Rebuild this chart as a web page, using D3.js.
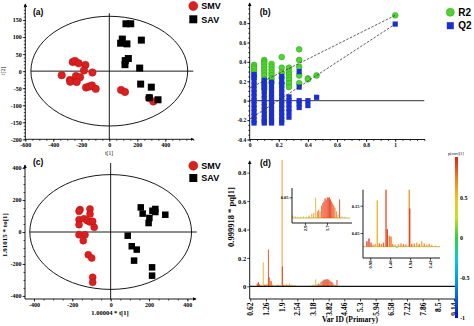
<!DOCTYPE html>
<html>
<head>
<meta charset="utf-8">
<script src="https://cdn.jsdelivr.net/npm/d3@7"></script>
<style>
  body { margin: 0; background: #fff; }
  svg { display: block; }
</style>
</head>
<body>
<svg width="474" height="326"></svg>
<script>
// ---- (a) PCA scores
const smvAx = [-340, -261, -245, -219, -171, -181, -121, -238, -209, -281, -279, -233, -166, -143, -124, -97, 84, 112, 284, 314];
const smvAy = [-12, 27, 30, 23, 18, 2, -4, -14, -18, -26, -31, -32, -48, -45, -42, -52, -55, -61, -79, -89];
const savAx = [119, 153, 93, 81, 126, 229, 136, 114, 112, 217, 224, 300, 286, 348];
const savAy = [139, 139, 94, 82, 80, 91, 37, 31, 19, 9, -38, -47, -78, -84];

// ---- (c) OPLS-DA scores
const smvCx = [-160, -165, -108, -108, -165, -139, -122, -108, -94, -165, -86, -165, -134, -143, -117, -99, -94, -94];
const smvCy = [140, 130, 144, 112, 77, 83, 71, 63, 67, 46, 29, -17, -17, -54, -142, -163, -283, -315];
const savCx = [157, 167, 202, 198, 218, 233, 233, 285, 89, 110, 136, 122, 216, 216];
const savCy = [154, 115, 88, 56, 133, 144, 125, 108, -23, -89, -110, -179, -221, -273];

// ---- (b) permutation test
const permX = [0.03, 0.1, 0.15, 0.22, 0.27, 0.34, 0.40, 0.46, 1];
const r2Vals = [
  [0.37, 0.35, 0.33, 0.30, 0.27, 0.24],
  [0.42, 0.40, 0.38, 0.35, 0.32, 0.29, 0.26, 0.22, 0.18, 0.15, 0.12],
  [0.38, 0.35, 0.32, 0.29, 0.26, 0.23, 0.19],
  [0.45, 0.34, 0.29, 0.24, 0.18],
  [0.34, 0.30, 0.27, 0.24, 0.21, 0.18, 0.14],
  [0.53, 0.42, 0.35, 0.26, 0.18],
  [0.23, 0.22],
  [0.26],
  [0.88]
];
const q2Vals = [
  [0.27, 0.24, 0.20, 0.16, 0.12, 0.08, 0.04, 0.0, -0.04, -0.08, -0.12, -0.16, -0.20, -0.23],
  [0.21, 0.18, 0.14, 0.10, 0.06, 0.02, -0.02, -0.06, -0.10, -0.14, -0.18, -0.21, -0.23],
  [0.19, 0.15, 0.11, 0.07, 0.03, -0.01, -0.05, -0.09, -0.13, -0.17, -0.21, -0.23],
  [0.25, 0.20, 0.16, 0.12, 0.08, 0.04, 0.0, -0.04, -0.08, -0.12, -0.16, -0.20, -0.23],
  [0.04, 0.0, -0.04, -0.08, -0.12, -0.17],
  [0.30, 0.14, 0.0, -0.03, -0.07],
  [0.0, -0.05],
  [0.035],
  [0.79]
];
const r2Fit = [0.13, 0.88];   // intercept at 0, value at 1
const q2Fit = [-0.19, 0.79];

// ---- (d) S-line loadings
const dTickLabels = ['0.62', '1.26', '1.9', '2.54', '3.18', '3.82', '4.46', '5.3', '5.94', '6.58', '7.22', '7.86', '8.5', '9.14'];
const specPpm = [0.90, 0.95, 1.00, 1.05, 1.10, 1.15, 1.20, 1.25, 1.30, 1.36, 1.39, 1.44, 1.48, 1.52, 1.58, 1.62, 1.66, 1.72, 1.78, 1.84,
  1.92, 1.93, 1.98, 2.04, 2.10, 2.16, 2.22, 2.28, 2.34, 2.40, 2.46, 2.55, 2.65, 2.75, 2.85, 2.95, 3.05, 3.15, 3.22, 3.29,
  3.35, 3.40, 3.45, 3.50, 3.55, 3.59, 3.63, 3.67, 3.71, 3.75, 3.79, 3.83, 3.87, 3.91, 3.95, 3.99, 4.04, 4.10, 4.16, 4.25, 4.35];
const specVal = [0.02, 0.03, 0.015, 0.008, 0.01, 0.17, 0.012, 0.01, 0.015, 0.26, 0.064, 0.04, 0.037, 0.01, 0.008, -0.004, 0.01, 0.012, 0.01, 0.008,
  0.95, 0.14, 0.01, 0.012, 0.015, 0.01, 0.02, 0.012, 0.008, 0.01, 0.006, 0.004, 0.003, 0.003, 0.004, 0.003, 0.006, 0.01, 0.012, 0.049,
  0.016, 0.02, 0.016, 0.03, 0.036, 0.04, 0.048, 0.044, 0.05, 0.049, 0.05, 0.045, 0.04, 0.035, 0.03, 0.025, 0.016, 0.008, 0.045, 0.004, 0.003];
const specCorr = [0.95, 0.95, 0.9, 0.7, 0.6, 0.55, 0.8, 0.7, 0.85, 0.88, 0.95, 0.75, 0.8, 0.7, 0.6, 0.05, 0.6, 0.7, 0.8, 0.7,
  0.66, 0.92, 0.8, 0.7, 0.6, 0.75, 0.55, 0.7, 0.6, 0.65, 0.6, 0.6, 0.55, 0.6, 0.55, 0.6, 0.7, 0.6, 0.65, 0.55,
  0.75, 0.8, 0.7, 0.8, 0.9, 0.92, 0.95, 0.9, 0.95, 0.92, 0.95, 0.9, 0.88, 0.85, 0.9, 0.8, 0.75, 0.6, 0.92, 0.6, 0.55];
const corrStops = [-1, -0.75, -0.5, -0.25, 0, 0.25, 0.5, 0.75, 1];
const corrColors = ['#0010d0', '#0060f0', '#00a0f0', '#00d0c8', '#30d040', '#c8e020', '#f0c020', '#f07a20', '#e02010'];

const svg = d3.select('svg');
const defs = svg.append('defs');
defs.append('marker').attr('id', 'arrow').attr('viewBox', '0 0 6 6')
  .attr('refX', 5).attr('refY', 3).attr('markerWidth', 4).attr('markerHeight', 4).attr('orient', 'auto')
  .append('path').attr('d', 'M0,0L6,3L0,6Z').attr('fill', '#000');

const serif = '"Liberation Serif", "DejaVu Serif", serif';
const sans = '"Liberation Sans", Arial, sans-serif';
const num = d => String(d);

function bottomAxis(x, yPos, major, minor, fmt, fs) {
  const g = svg.append('g').attr('transform', 'translate(0,' + yPos + ')');
  if (minor) {
    g.append('g').call(d3.axisBottom(x).tickValues(minor).tickSize(1.5).tickFormat(''))
      .call(s => s.select('.domain').remove());
  }
  const m = g.append('g').call(d3.axisBottom(x).tickValues(major).tickSize(2.5).tickPadding(1).tickFormat(fmt));
  m.select('.domain').remove();
  g.selectAll('line').attr('stroke-width', 0.7);
  m.selectAll('text').style('font-family', serif).style('font-weight', 'bold').style('font-size', fs + 'px');
  return m;
}

function leftAxis(y, xPos, major, minor, fmt, fs) {
  const g = svg.append('g').attr('transform', 'translate(' + xPos + ',0)');
  if (minor) {
    g.append('g').call(d3.axisLeft(y).tickValues(minor).tickSize(1.5).tickFormat(''))
      .call(s => s.select('.domain').remove());
  }
  const m = g.append('g').call(d3.axisLeft(y).tickValues(major).tickSize(2.5).tickPadding(1).tickFormat(fmt));
  m.select('.domain').remove();
  g.selectAll('line').attr('stroke-width', 0.7);
  m.selectAll('text').style('font-family', serif).style('font-weight', 'bold').style('font-size', fs + 'px');
  return m;
}

function axisLine(x1, y1, x2, y2, arrow) {
  svg.append('line').attr('x1', x1).attr('y1', y1).attr('x2', x2).attr('y2', y2)
    .attr('stroke', '#000').attr('stroke-width', 0.9)
    .attr('marker-end', arrow ? 'url(#arrow)' : null);
}

function txt(x, y, s, fs, opts) {
  opts = opts || {};
  const t = svg.append('text').attr('x', x).attr('y', y).text(s)
    .style('font-family', opts.family || serif).style('font-size', fs + 'px')
    .style('font-weight', opts.bold === false ? 'normal' : 'bold')
    .attr('text-anchor', opts.anchor || 'start').attr('fill', opts.fill || '#000');
  if (opts.rotate) t.attr('transform', 'rotate(' + opts.rotate + ',' + x + ',' + y + ')');
  return t;
}

function legend(x, y, label, shape, fill, stroke, size, fs) {
  if (shape === 'circle') {
    svg.append('circle').attr('cx', x).attr('cy', y).attr('r', size / 2).attr('fill', fill).attr('stroke', stroke).attr('stroke-width', 0.5);
  } else {
    svg.append('rect').attr('x', x - size / 2).attr('y', y - size / 2).attr('width', size).attr('height', size).attr('fill', fill);
  }
  txt(x + 8, y + fs * 0.36, label, fs, {family: sans});
}

function scores(xs, ys, x, y, shape, fill, size) {
  const pts = xs.map((v, i) => ({x: v, y: ys[i]}));
  if (shape === 'circle') {
    svg.append('g').selectAll('circle').data(pts).join('circle')
      .attr('cx', d => x(d.x)).attr('cy', d => y(d.y)).attr('r', size / 2)
      .attr('fill', fill).attr('stroke', '#b01010').attr('stroke-width', 0.5);
  } else {
    svg.append('g').selectAll('rect').data(pts).join('rect')
      .attr('x', d => x(d.x) - size / 2).attr('y', d => y(d.y) - size / 2)
      .attr('width', size).attr('height', size).attr('fill', fill);
  }
}

const red = '#dc2020';

// ================= (a) =================
{
  const x = d3.scaleLinear().domain([-600, 600]).range([25.3, 193.3]);
  const y = d3.scaleLinear().domain([-200, 197]).range([139.3, 4]);
  svg.append('ellipse').attr('cx', x(0)).attr('cy', y(0))
    .attr('rx', x(560) - x(0)).attr('ry', y(0) - y(161))
    .attr('fill', 'none').attr('stroke', '#000').attr('stroke-width', 0.9);
  svg.append('line').attr('x1', x(-560)).attr('x2', x(600)).attr('y1', y(0)).attr('y2', y(0)).attr('stroke', '#000').attr('stroke-width', 0.9);
  svg.append('line').attr('x1', x(0)).attr('x2', x(0)).attr('y1', y(-200)).attr('y2', y(170)).attr('stroke', '#000').attr('stroke-width', 0.9);
  bottomAxis(x, 139.3, [-600, -400, -200, 0, 200, 400], d3.range(-600, 601, 50), num, 6);
  leftAxis(y, 25.3, [-200, -150, -100, -50, 0, 50, 100, 150], d3.range(-200, 191, 10), num, 6);
  axisLine(25.3, 139.3, 193.5, 139.3, true);
  axisLine(25.3, 139.3, 25.3, 4, true);
  scores(smvAx, smvAy, x, y, 'circle', red, 7.5);
  scores(savAx, savAy, x, y, 'rect', '#000', 7);
  txt(109, 154.5, 't[1]', 5.5, {anchor: 'middle', bold: false});
  txt(5, 71, 't[2]', 5.5, {anchor: 'middle', bold: false, rotate: -90});
  txt(33, 14.5, '(a)', 8.5, {family: sans});
  legend(193.3, 6, 'SMV', 'circle', red, '#b01010', 9, 9);
  legend(193.3, 19.3, 'SAV', 'rect', '#000', null, 8, 9);
}

// ================= (b) =================
{
  const x = d3.scaleLinear().domain([0, 1.2]).range([249.7, 424.3]);
  const y = d3.scaleLinear().domain([-0.4, 1.0]).range([139.5, 3.7]);
  bottomAxis(x, 139.5, [0, 0.2, 0.4, 0.6, 0.8, 1], d3.range(0, 1.201, 0.05), num, 5.5);
  leftAxis(y, 249.7, [-0.4, -0.2, 0, 0.2, 0.4, 0.6, 0.8], d3.range(-0.4, 0.96, 0.05), num, 5.5);
  axisLine(249.7, 139.5, 425, 139.5, false);
  axisLine(249.7, 139.5, 249.7, 3, true);
  svg.append('line').attr('x1', x(0)).attr('x2', x(1.2)).attr('y1', y(0)).attr('y2', y(0)).attr('stroke', '#333').attr('stroke-width', 1);

  const r2 = permX.flatMap((px, i) => r2Vals[i].map(v => ({x: px, y: v})));
  const q2 = permX.flatMap((px, i) => q2Vals[i].map(v => ({x: px, y: v})));
  svg.append('g').selectAll('circle').data(r2).join('circle')
    .attr('cx', d => x(d.x)).attr('cy', d => y(d.y)).attr('r', 2.9)
    .attr('fill', '#4ed62e').attr('stroke', '#2a9a1c').attr('stroke-width', 0.5);
  svg.append('g').selectAll('rect').data(q2).join('rect')
    .attr('x', d => x(d.x) - 2.6).attr('y', d => y(d.y) - 2.6).attr('width', 5.2).attr('height', 5.2)
    .attr('fill', '#1c2fcf');
  [r2Fit, q2Fit].forEach(f => {
    svg.append('line').attr('x1', x(0)).attr('y1', y(f[0])).attr('x2', x(1)).attr('y2', y(f[1]))
      .attr('stroke', '#333').attr('stroke-width', 0.8).attr('stroke-dasharray', '2.5,1.5');
  });
  txt(259.7, 15, '(b)', 8.5, {family: sans});
  legend(450.3, 12.3, 'R2', 'circle', '#4ed62e', '#2a9a1c', 8, 10);
  legend(450.3, 25.7, 'Q2', 'rect', '#1c2fcf', null, 7, 10);
}

// ================= (c) =================
{
  const x = d3.scaleLinear().domain([-447, 440]).range([25, 195]);
  const y = d3.scaleLinear().domain([-419, 419]).range([299, 165]);
  svg.append('ellipse').attr('cx', x(0)).attr('cy', y(0))
    .attr('rx', x(422) - x(0)).attr('ry', y(0) - y(359))
    .attr('fill', 'none').attr('stroke', '#000').attr('stroke-width', 0.9);
  svg.append('line').attr('x1', x(-421)).attr('x2', x(449)).attr('y1', y(0)).attr('y2', y(0)).attr('stroke', '#000').attr('stroke-width', 0.9);
  svg.append('line').attr('x1', x(0)).attr('x2', x(0)).attr('y1', y(-419)).attr('y2', y(431)).attr('stroke', '#000').attr('stroke-width', 0.9);
  bottomAxis(x, 299, [-400, -200, 0, 200, 400], d3.range(-400, 401, 50), num, 6);
  leftAxis(y, 25, [-400, -200, 0, 200, 400], d3.range(-400, 401, 50), num, 6);
  axisLine(25, 299, 196, 299, true);
  axisLine(25, 299, 25, 165, true);
  scores(smvCx, smvCy, x, y, 'circle', red, 7);
  scores(savCx, savCy, x, y, 'rect', '#000', 6.5);
  txt(110, 315, '1.00004 * t[1]', 6.5, {anchor: 'middle'});
  txt(7, 235, '1.91015 * to[1]', 7, {anchor: 'middle', rotate: -90});
  txt(33, 165, '(c)', 8.5, {family: sans});
  legend(193.3, 165.7, 'SMV', 'circle', red, '#b01010', 9, 9);
  legend(193.3, 178, 'SAV', 'rect', '#000', null, 8, 9);
}

// ================= (d) =================
{
  const color = d3.scaleLinear().domain(corrStops).range(corrColors);
  const spec = specPpm.map((p, i) => ({p: p, v: specVal[i], c: specCorr[i]}));
  const ticksD = dTickLabels.map((s, i) => 0.62 + 0.64 * i);
  const x = d3.scaleLinear().domain([0.62, 0.62 + 0.64 * 13]).range([250.3, 454]);
  const y = d3.scaleLinear().domain([-0.089, 0.868]).range([299, 163]);

  defs.append('clipPath').attr('id', 'clipD').append('rect')
    .attr('x', 250).attr('y', 160).attr('width', 205).attr('height', 139);

  function bars(xs, ys, clip, minW) {
    const [d0, d1] = xs.domain();
    svg.append('g').attr('clip-path', 'url(#' + clip + ')')
      .selectAll('rect').data(spec.filter(d => d.p >= d0 && d.p <= d1)).join('rect')
      .attr('x', d => xs(d.p) - Math.max(minW, xs(d.p + 0.035) - xs(d.p)) / 2)
      .attr('width', d => Math.max(minW, xs(d.p + 0.035) - xs(d.p)))
      .attr('y', d => Math.min(ys(d.v), ys(0)))
      .attr('height', d => Math.abs(ys(d.v) - ys(0)))
      .attr('fill', d => color(d.c)).attr('fill-opacity', 0.9);
  }

  bars(x, y, 'clipD', 1);
  svg.append('line').attr('x1', 250).attr('x2', 455).attr('y1', y(0)).attr('y2', y(0)).attr('stroke', '#111').attr('stroke-width', 1.3);

  const gx = bottomAxis(x, 299, ticksD, null, (d, i) => dTickLabels[i], 7.5);
  gx.selectAll('text').attr('y', 0).attr('x', -3.5).attr('dy', '0.35em')
    .attr('transform', 'rotate(-90)').style('text-anchor', 'end');
  leftAxis(y, 249.7, [0, 0.2, 0.4, 0.6, 0.8], null, num, 6.5);
  axisLine(249.7, 299, 455, 299, false);
  axisLine(249.7, 299, 249.7, 161, true);
  txt(350, 322, 'Var ID (Primary)', 7.5, {anchor: 'middle'});
  txt(234, 217, '0.999918 * pq[1]', 8.5, {anchor: 'middle', rotate: -90});
  txt(260, 166, '(d)', 8.5, {family: sans});

  // inset 1
  const i1x = d3.scaleLinear().domain([2.43, 4.61]).range([292, 352]);
  const i1y = d3.scaleLinear().domain([-0.012, 0.0725]).range([223, 188]);
  defs.append('clipPath').attr('id', 'clip1').append('rect').attr('x', 292).attr('y', 188).attr('width', 60).attr('height', 35);
  svg.append('line').attr('x1', 292).attr('x2', 350).attr('y1', i1y(0)).attr('y2', i1y(0)).attr('stroke', '#b8a83a').attr('stroke-width', 0.8);
  bars(i1x, i1y, 'clip1', 1);
  const i1b = bottomAxis(i1x, 223, [2.9, 3.7], null, num, 4.5);
  i1b.selectAll('text').attr('y', 0).attr('x', -2.5).attr('dy', '0.35em')
    .attr('transform', 'rotate(-90)').style('text-anchor', 'end');
  leftAxis(i1y, 292, [0.05], null, num, 4.5);
  axisLine(292, 223, 352, 223, false);
  axisLine(292, 223, 292, 188, false);

  // inset 2
  const i2x = d3.scaleLinear().domain([0.806, 2.66]).range([363, 440]);
  const i2y = d3.scaleLinear().domain([-0.0414, 0.2088]).range([258, 189.7]);
  defs.append('clipPath').attr('id', 'clip2').append('rect').attr('x', 363).attr('y', 189.7).attr('width', 77).attr('height', 68.3);
  svg.append('line').attr('x1', 363).attr('x2', 440).attr('y1', i2y(0)).attr('y2', i2y(0)).attr('stroke', '#a8a83a').attr('stroke-width', 0.8);
  bars(i2x, i2y, 'clip2', 1.2);
  const i2b = bottomAxis(i2x, 258, [0.98, 1.46, 1.94, 2.42], null, num, 4.5);
  i2b.selectAll('text').attr('y', 0).attr('x', -2.5).attr('dy', '0.35em')
    .attr('transform', 'rotate(-90)').style('text-anchor', 'end');
  leftAxis(i2y, 363, [0.05, 0.15], null, num, 4.5);
  axisLine(363, 258, 440, 258, false);
  axisLine(363, 258, 363, 189.7, false);

  // colour bar
  const cy = d3.scaleLinear().domain([-1, 1]).range([318, 157]);
  const grad = defs.append('linearGradient').attr('id', 'corrGrad')
    .attr('x1', 0).attr('y1', 1).attr('x2', 0).attr('y2', 0);
  grad.selectAll('stop').data(corrStops).join('stop')
    .attr('offset', d => (d + 1) / 2).attr('stop-color', (d, i) => corrColors[i]);
  svg.append('rect').attr('x', 455).attr('y', cy(1)).attr('width', 3).attr('height', cy(-1) - cy(1)).attr('fill', 'url(#corrGrad)');
  const cb = svg.append('g').attr('transform', 'translate(458,0)')
    .call(d3.axisRight(cy).tickValues([-1, -0.5, 0, 0.5]).tickSize(0).tickPadding(2).tickFormat(num));
  cb.select('.domain').remove();
  cb.selectAll('text').style('font-family', serif).style('font-weight', 'bold').style('font-size', '6px');
  txt(456, 155, 'p(corr)[1]', 4, {anchor: 'middle', bold: false});
}
</script>
</body>
</html>
